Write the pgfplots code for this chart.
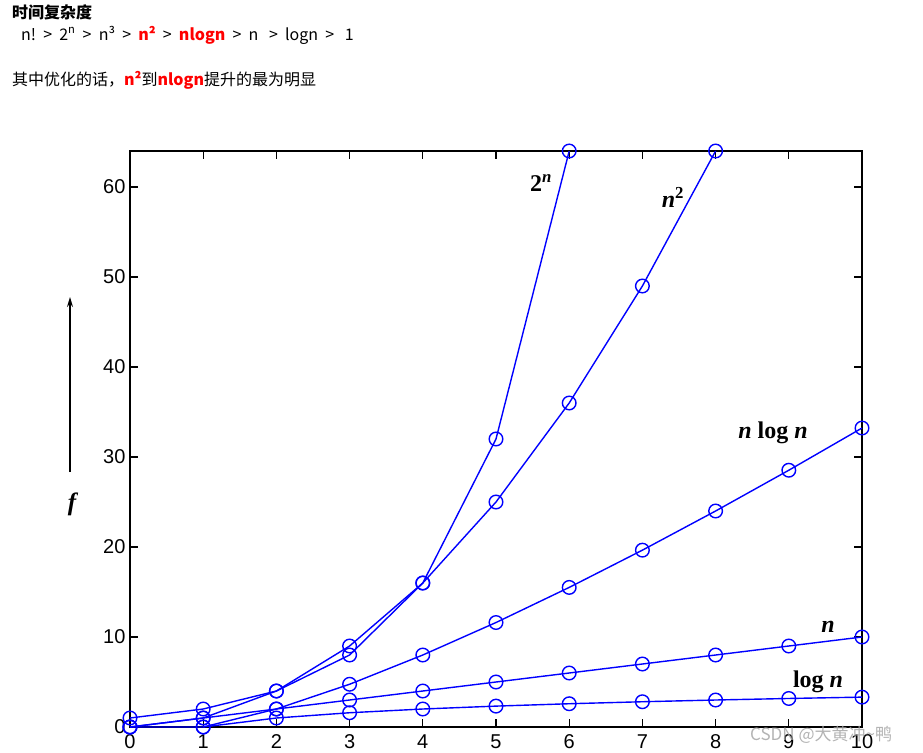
\documentclass[border=0pt]{standalone}
\usepackage{pgfplots}
\pgfplotsset{compat=1.18}
\usepackage{fontspec}
\setmainfont{Liberation Serif}
\setsansfont{Liberation Sans}
\newfontfamily\cjk{Noto Sans CJK SC}
\usetikzlibrary{arrows.meta}
\definecolor{cblue}{RGB}{0,0,255}
\definecolor{cred}{RGB}{255,0,0}
\pgfplotscreateplotcyclelist{bluecircles}{%
  {cblue, line width=1.4pt, mark=o, mark size=6.8pt, mark options={line width=1.4pt, solid, fill=none, draw=cblue}}\\%
}
\begin{document}
\begin{tikzpicture}
\path[use as bounding box] (0,0) rectangle (923pt,-752pt);
% header text
\node[anchor=west, inner sep=0pt] at (12pt,-12pt) {\cjk\bfseries\fontsize{16}{19}\selectfont 时间复杂度};
\node[anchor=west, inner sep=0pt] at (21pt,-35pt) {\cjk\fontsize{16}{19}\selectfont n!\ \ >\ \ 2\textsuperscript{n}\ \ >\ \ n³\ \ >\ \ \textcolor{cred}{\bfseries n²}\ \ >\ \ \textcolor{cred}{\bfseries nlogn}\ \ >\ \ n\ \ \ >\ \ logn\ \ >\ \ \ 1};
\node[anchor=west, inner sep=0pt] at (12pt,-80pt) {\cjk\fontsize{16}{19}\selectfont 其中优化的话，\textcolor{cred}{\bfseries n²}到\textcolor{cred}{\bfseries nlogn}提升的最为明显};
\begin{axis}[
  at={(130pt,-727pt)}, anchor=south west,
  scale only axis, width=732pt, height=576pt,
  xmin=0, xmax=10, ymin=0, ymax=64,
  xtick={0,...,10}, ytick={0,10,...,60},
  tick align=inside, major tick length=8pt,
  axis line style={line width=1.6pt, black},
  tick style={line width=1.2pt, black},
  ticklabel style={font=\fontsize{20}{24}\selectfont\sffamily, color=black},
  xticklabel style={yshift=-4pt},
  yticklabel style={xshift=-1pt},
  /pgf/number format/assume math mode=true,
  clip=false,
  cycle list name=bluecircles,
]
% log n
\addplot coordinates {(1,0)(2,1)(3,1.585)(4,2)(5,2.322)(6,2.585)(7,2.807)(8,3)(9,3.17)(10,3.32)};
% n
\addplot coordinates {(0,0)(1,1)(2,2)(3,3)(4,4)(5,5)(6,6)(7,7)(8,8)(9,9)(10,10)};
% n log n
\addplot coordinates {(0,0)(1,0)(2,2)(3,4.75)(4,8)(5,11.61)(6,15.51)(7,19.65)(8,24)(9,28.53)(10,33.22)};
% n^2
\addplot coordinates {(0,0)(1,1)(2,4)(3,9)(4,16)(5,25)(6,36)(7,49)(8,64)};
% 2^n
\addplot coordinates {(0,1)(1,2)(2,4)(3,8)(4,16)(5,32)(6,64)};
\end{axis}
% curve labels
\node at (541pt,-183pt) {\fontsize{24}{28}\selectfont\bfseries 2\textsuperscript{\itshape n}};
\node at (673pt,-197pt) {\fontsize{24}{28}\selectfont\bfseries\itshape n\textsuperscript{\upshape 2}};
\node at (773pt,-433pt) {\fontsize{24}{28}\selectfont\bfseries\itshape n \upshape log \itshape n};
\node at (828pt,-627pt) {\fontsize{24}{28}\selectfont\bfseries\itshape n};
\node at (818pt,-682pt) {\fontsize{24}{28}\selectfont\bfseries log \itshape n};
% f arrow
\draw[line width=1.4pt, -{Stealth[length=10pt,width=6pt]}] (70pt,-472pt) -- (70pt,-297pt);
\node at (72pt,-504pt) {\fontsize{25}{29}\selectfont\bfseries\itshape f};
% watermark
\node[anchor=west, inner sep=0pt, text=black!35, opacity=0.85] at (750pt,-735pt) {\cjk\fontsize{17}{20}\selectfont CSDN @大黄冲\textasciitilde 鸭};
\end{tikzpicture}
\end{document}
